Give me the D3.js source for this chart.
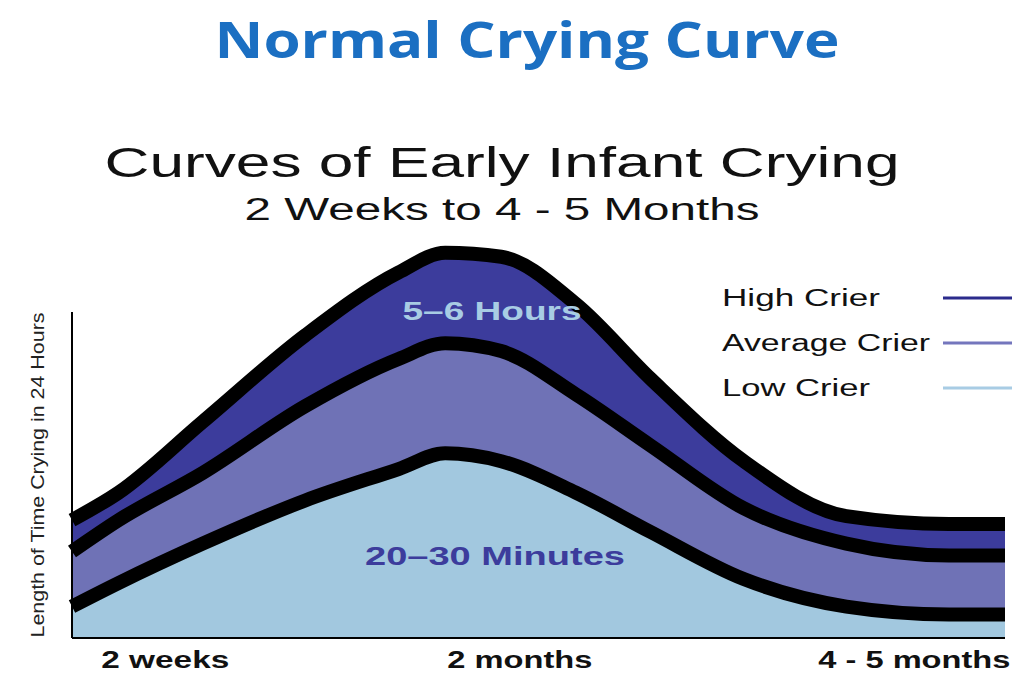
<!DOCTYPE html>
<html><head><meta charset="utf-8">
<script src="https://cdn.jsdelivr.net/npm/d3@7"></script>
<style>body{margin:0;background:#fff}text{font-family:"Liberation Sans",Arial,sans-serif}</style>
</head><body><svg id="c" width="1024" height="686"></svg>
<script>
const xPos = [0, 5, 14, 25, 35, 40, 46, 54, 62, 72, 83, 94, 100];
const highCrier = [30, 37, 55, 77, 93, 98, 97, 85, 66, 45, 31, 29, 29];
const averageCrier = [22, 30, 42, 59, 71, 75, 73, 62, 49, 33, 24, 21, 21];
const lowCrier = [8, 14, 24, 35, 43, 47, 45, 37, 27, 15, 8, 6, 6];
const tickPos = [10, 48, 89];
const tickLabels = ["2 weeks", "2 months", "4 - 5 months"];
const legendLabels = ["High Crier", "Average Crier", "Low Crier"];
const legendColors = ["#2b2b8c", "#7476bd", "#a8cce4"];
const fillColors = ["#3c3c9c", "#6f72b6", "#a2c8df"];

const svg = d3.select("#c");
const x = d3.scaleLinear().domain([0, 100]).range([72, 1005]);
const y = d3.scaleLinear().domain([0, 100]).range([638, 245]);
const curve = d3.curveMonotoneX;

function txt(xx, yy, s, size, len, opts = {}) {
  const t = svg.append("text").attr("x", xx).attr("y", yy).attr("font-size", size)
    .attr("text-anchor", opts.anchor || "middle").attr("fill", opts.fill || "#111")
    .attr("font-weight", opts.bold ? "bold" : "normal").text(s);
  if (len) t.attr("textLength", len).attr("lengthAdjust", "spacingAndGlyphs");
  if (opts.family) t.style("font-family", opts.family);
  return t;
}

txt(527, 58, "Normal Crying Curve", 50, 625, {bold: true, fill: "#1b6fc2", family: "'Open Sans',sans-serif"});
txt(502, 177, "Curves of Early Infant Crying", 42, 795);
txt(502, 220, "2 Weeks to 4 - 5 Months", 31, 515);

const series = [highCrier, averageCrier, lowCrier];
const lower = [averageCrier, lowCrier, xPos.map(() => 0)];
series.forEach((s, i) => {
  const area = d3.area().x((d, j) => x(xPos[j])).y0((d, j) => y(lower[i][j])).y1(d => y(d)).curve(curve);
  svg.append("path").datum(s).attr("d", area).attr("fill", fillColors[i]);
});
series.forEach(s => {
  const line = d3.line().x((d, j) => x(xPos[j])).y(d => y(d)).curve(curve);
  svg.append("path").datum(s).attr("d", line).attr("fill", "none").attr("stroke", "#000").attr("stroke-width", 14);
});

svg.append("line").attr("x1", 72).attr("x2", 72).attr("y1", 312).attr("y2", 638).attr("stroke", "#000").attr("stroke-width", 2);
svg.append("line").attr("x1", 72).attr("x2", 1005).attr("y1", 638).attr("y2", 638).attr("stroke", "#000").attr("stroke-width", 2);
svg.append("text").attr("transform", "translate(44,475) rotate(-90)").attr("text-anchor", "middle").attr("font-size", 18)
  .attr("textLength", 325).attr("lengthAdjust", "spacingAndGlyphs").attr("fill", "#222").text("Length of Time Crying in 24 Hours");

const tickLens = [128, 145, 192];
tickPos.forEach((t, i) => txt(x(t) + (i === 2 ? 12 : 0), 668, tickLabels[i], 23, tickLens[i], {bold: true}));

txt(492, 320, "5–6 Hours", 25, 179, {bold: true, fill: "#a8cce4"});
txt(495, 565, "20–30 Minutes", 25, 260, {bold: true, fill: "#3c3c9c"});

const legLens = [158, 208, 148];
legendLabels.forEach((l, i) => {
  const yy = 298 + i * 45;
  txt(722, yy + 8, l, 23, legLens[i], {anchor: "start"});
  svg.append("line").attr("x1", 943).attr("x2", 1012).attr("y1", yy).attr("y2", yy).attr("stroke", legendColors[i]).attr("stroke-width", 3);
});
</script></body></html>
